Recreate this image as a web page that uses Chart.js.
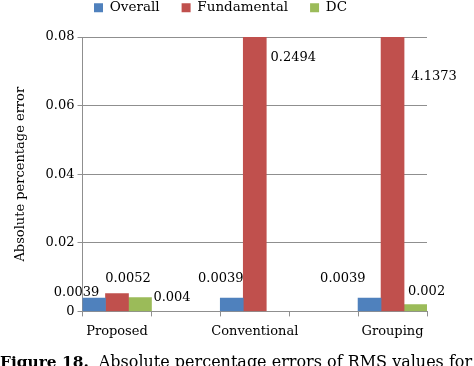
<!DOCTYPE html>
<html>
<head>
<meta charset="utf-8">
<script src="https://cdn.jsdelivr.net/npm/chart.js@4"></script>
<style>
  html, body { margin: 0; padding: 0; background: #fff; overflow: hidden; }
  #wrap { position: relative; width: 474px; height: 366px; }
  #caption {
    position: absolute; left: 0; top: 352px; white-space: nowrap;
    font-family: 'DejaVu Serif', serif; font-size: 16px; line-height: 20px; color: #000;
  }
  #caption b { font-size: 15.4px; margin-right: 10px; }
</style>
</head>
<body>
<div id="wrap">
  <canvas id="errChart"></canvas>
  <div id="caption"><b>Figure 18.</b>Absolute percentage errors of RMS values for</div>
</div>
<script>
const categories = ['Proposed', 'Conventional', 'Grouping'];
const overall = [0.0039, 0.0039, 0.0039];
const fundamental = [0.0052, 0.2494, 4.1373];
const dc = [0.004, null, 0.002];
const yTicks = [0, 0.02, 0.04, 0.06, 0.08];

const gray = '#8f8f8f';
const toPoints = vals => vals.map((v, i) => ({ x: i, y: v }));

// label offsets from bar top centre (Excel-style placement)
const labelOffsets = [
  [[-17.5, -5], [-11, -19], [-26.7, -19]],
  [[11, -15], [38.5, 21], [41.5, 40]],
  [[32, 0], null, [11, -12.5]]
];

const valueLabels = {
  id: 'valueLabels',
  afterDatasetsDraw(chart) {
    const ctx = chart.ctx;
    const top = chart.chartArea.top;
    ctx.save();
    ctx.font = '13px "DejaVu Serif"';
    ctx.fillStyle = '#000';
    ctx.textAlign = 'center';
    ctx.textBaseline = 'middle';
    chart.data.datasets.forEach((ds, di) => {
      chart.getDatasetMeta(di).data.forEach((bar, i) => {
        const v = ds.data[i].y;
        const off = labelOffsets[di][i];
        if (v == null || !off) return;
        ctx.fillText(String(v), bar.x + off[0], Math.max(bar.y, top) + off[1]);
      });
    });
    ctx.restore();
  }
};

const legendNudge = {
  id: 'legendNudge',
  afterLayout(chart) {
    chart.legend.top = -21;
    chart.legend.right += 5;
  }
};

Chart.defaults.font.family = '"DejaVu Serif", serif';
Chart.defaults.color = '#000';

const ctx = document.getElementById('errChart').getContext('2d');

new Chart(ctx, {
  type: 'bar',
  data: {
    datasets: [
      { label: 'Overall', data: toPoints(overall), backgroundColor: '#4F81BD' },
      { label: 'Fundamental', data: toPoints(fundamental), backgroundColor: '#C0504D' },
      { label: 'DC', data: toPoints(dc), backgroundColor: '#9BBB59' }
    ]
  },
  options: {
    responsive: true,
    maintainAspectRatio: false,
    animation: false,
    barThickness: 23,
    layout: { padding: { left: 9, right: 47, top: -8.5, bottom: 19 } },
    plugins: {
      legend: {
        labels: { boxWidth: 9, boxHeight: 9, padding: 22, font: { size: 13.5 } }
      },
      tooltip: { enabled: false }
    },
    scales: {
      x: {
        type: 'linear',
        min: -0.25,
        max: 2.25,
        offset: false,
        afterBuildTicks: scale => {
          scale.ticks = [-0.25, 0, 0.25, 0.75, 1, 1.25, 1.75, 2, 2.25].map(v => ({ value: v }));
        },
        ticks: {
          autoSkip: false,
          maxRotation: 0,
          padding: 7.5,
          font: { size: 13 },
          callback: v => Number.isInteger(v) ? categories[v] : ''
        },
        grid: {
          offset: false,
          drawOnChartArea: false,
          tickLength: 5,
          color: c => (c.tick && Number.isInteger(c.tick.value)) ? 'rgba(0,0,0,0)' : gray
        },
        border: { color: gray }
      },
      y: {
        min: 0,
        max: 0.08,
        afterBuildTicks: scale => {
          scale.ticks = yTicks.map(v => ({ value: v }));
        },
        ticks: { padding: 3, font: { size: 13 } },
        grid: { color: gray, tickLength: 5 },
        border: { color: gray },
        title: {
          display: true,
          text: 'Absolute percentage error',
          font: { size: 13 },
          padding: { top: 4, bottom: 14 }
        }
      }
    }
  },
  plugins: [valueLabels, legendNudge]
});
</script>
</body>
</html>
